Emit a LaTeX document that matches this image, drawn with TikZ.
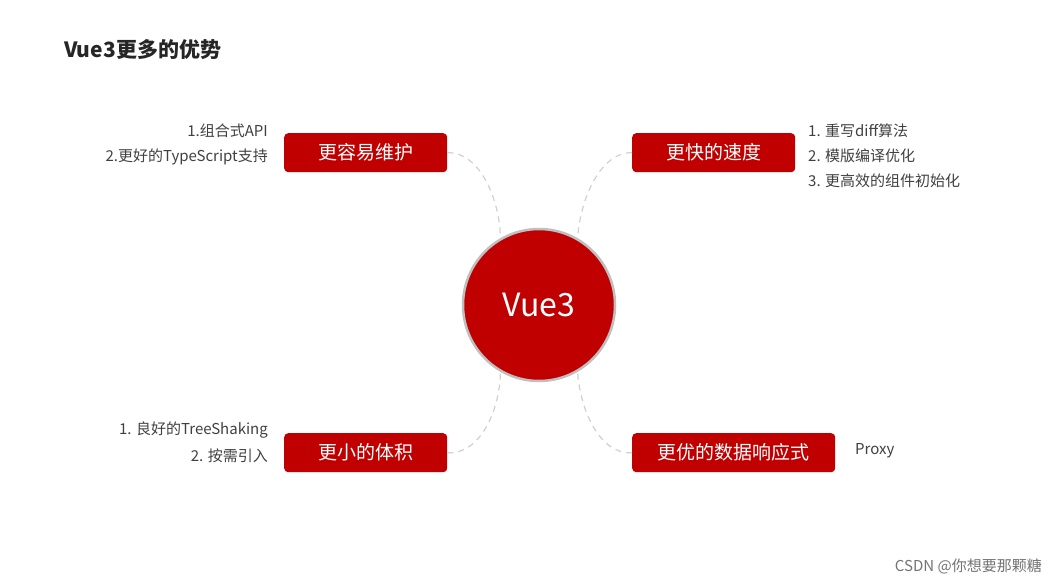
\documentclass[tikz,border=0pt]{standalone}
\usepackage{fontspec}
\setmainfont{Noto Sans CJK SC}
\begin{document}
\begin{tikzpicture}[x=1pt,y=-1pt,
  box/.style={fill=vred,rounded corners=4pt,text=white,font=\fontsize{19}{19}\selectfont,inner sep=0pt,anchor=north west},
  lbl/.style={text=tgray,font=\fontsize{15}{19}\selectfont,inner sep=0pt},
  link/.style={draw=lgray,dashed,line width=1.2pt,dash pattern=on 6pt off 5pt}]
\definecolor{vred}{HTML}{C00000}
\definecolor{tgray}{HTML}{404040}
\definecolor{lgray}{HTML}{D0D0D0}
\useasboundingbox (0,0) rectangle (1059,586);
\node[anchor=west,inner sep=0pt,font=\bfseries\fontsize{21}{21}\selectfont,text=black!85] (title) at (64,50) {Vue3更多的优势};
\node[circle,fill=vred,draw=black!25,line width=2.5pt,minimum size=152pt,text=white,font=\fontsize{32}{32}\selectfont] (c) at (539,305) {Vue3};
\node[box,minimum width=163pt,minimum height=39pt] (b1) at (284,133) {更容易维护};
\node[box,minimum width=163pt,minimum height=39pt] (b2) at (632,133) {更快的速度};
\node[box,minimum width=163pt,minimum height=39pt] (b3) at (284,433) {更小的体积};
\node[box,minimum width=203pt,minimum height=39pt] (b4) at (632,433) {更优的数据响应式};
\draw[link] (b1.east) .. controls (480,152) and (500,200) .. (c.120);
\draw[link] (b2.west) .. controls (600,152) and (580,200) .. (c.60);
\draw[link] (b3.east) .. controls (480,455) and (500,410) .. (c.240);
\draw[link] (b4.west) .. controls (600,455) and (580,410) .. (c.300);
\node[lbl,anchor=east] (t1) at (268,131) {1.组合式API};
\node[lbl,anchor=east] (t2) at (268,157) {2.更好的TypeScript支持};
\node[lbl,anchor=west] (t3) at (808,131) {1. 重写diff算法};
\node[lbl,anchor=west] (t4) at (808,156) {2. 模版编译优化};
\node[lbl,anchor=west] (t5) at (808,181) {3. 更高效的组件初始化};
\node[lbl,anchor=east] (t6) at (268,430) {1. 良好的TreeShaking};
\node[lbl,anchor=east] (t7) at (268,456) {2. 按需引入};
\node[lbl,anchor=west] (t8) at (855,451) {Proxy};
\node[anchor=east,inner sep=0pt,text=black!55,font=\fontsize{15}{15}\selectfont] (wm) at (1042,566) {CSDN @你想要那颗糖};
\end{tikzpicture}
\end{document}
